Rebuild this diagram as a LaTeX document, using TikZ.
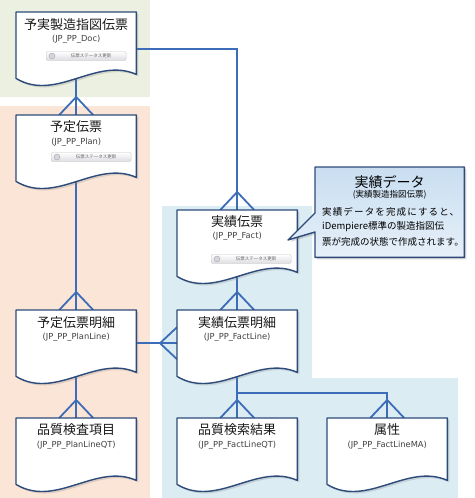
\documentclass[tikz,border=0pt]{standalone}
\usepackage{fontspec}
\setmainfont{Noto Sans CJK JP}
\newfontfamily\latinfont{DejaVu Sans}
\usetikzlibrary{positioning,calc,shadows}

\definecolor{bggreen}{HTML}{EBF0E0}
\definecolor{bgpeach}{HTML}{FBE5D7}
\definecolor{bgblue}{HTML}{DBECF3}
\definecolor{boxline}{HTML}{2C4B7A}
\definecolor{linkline}{HTML}{3D6DB8}
\definecolor{notetop}{HTML}{C9DEF1}
\definecolor{notebot}{HTML}{E6F0F9}

\tikzset{
  docbox/.style={rectangle, draw=none, inner sep=0pt, minimum width=120pt,
    minimum height=66pt, anchor=north west},
  docline/.style={draw=boxline, line width=1.4pt, fill=white, line join=round,
    drop shadow={opacity=0.25, shadow xshift=2pt, shadow yshift=-2pt}},
  link/.style={draw=linkline, line width=1.8pt},
  title/.style={font=\fontsize{13}{15}\selectfont, text=black!90, inner sep=0pt},
  subtitle/.style={font=\latinfont\fontsize{8.3}{9}\selectfont, text=black!75, inner sep=0pt},
  button/.style={rectangle, rounded corners=2pt, draw=gray!45, top color=white,
    bottom color=blue!8!gray!25, minimum width=80pt, minimum height=9pt, inner sep=0pt,
    font=\fontsize{4.5}{5}\selectfont, text=black!60},
  notetext/.style={font=\fontsize{9.5}{11}\selectfont, inner sep=0pt, anchor=west},
}

\begin{document}
\begin{tikzpicture}[x=1pt, y=-1pt]
    \useasboundingbox (0,0) rectangle (474,498);

    % background areas
    \fill[bggreen] (0,0) rectangle (150,97);
    \fill[bgpeach] (0,106) rectangle (150,498);
    \fill[bgblue] (162,206) -- (312,206) -- (312,378) -- (458,378) -- (458,498)
        -- (162,498) -- cycle;

    % tables
    \node[docbox] (doc) at (16,12) {};
    \node[docbox] (plan) at (16,115) {};
    \node[docbox] (fact) at (177,210) {};
    \node[docbox] (planline) at (16,310) {};
    \node[docbox] (factline) at (177,310) {};
    \node[docbox] (planqt) at (16,418) {};
    \node[docbox] (factqt) at (177,418) {};
    \node[docbox] (factma) at (327,418) {};

    % connectors
    \draw[link] ($(doc.east)+(0,4)$) -| (fact.north);
    \draw[link] ($(plan.east)+(0,-6)$) -- ($(plan.east)+(0,-6)$ -| fact.north);
    \draw[link] (doc.south) -- (plan.north);
    \draw[link] (plan.south) -- (planline.north);
    \draw[link] (fact.south) -- (factline.north);
    \draw[link] (planline.east) -- (factline.west);
    \draw[link] (planline.south) -- (planqt.north);
    \draw[link] (factline.south) -- (factqt.north);
    \coordinate (split) at ($(factline.south)+(0,16.5)$);
    \draw[link] (split) -| (factma.north);

    % crow's feet
    \foreach \n in {plan,fact,planline,factline,planqt,factqt,factma}
        \draw[link, line join=round] ($(\n.north)+(-17,0)$) -- ($(\n.north)+(0,-18)$)
            -- ($(\n.north)+(17,0)$);
    \draw[link, line join=round] ($(factline.west)+(0,-16)$) -- ($(factline.west)+(-17,0)$)
        -- ($(factline.west)+(0,16)$);

    % document shapes
    \foreach \n in {doc,plan,fact,planline,factline,planqt,factqt,factma}
        \path[docline] (\n.south west) -- (\n.north west) -- (\n.north east)
            -- ($(\n.south east)+(0,-4)$) .. controls ($(\n.south west)+(80,-22)$)
            and ($(\n.south west)+(40,24)$) .. (\n.south west) -- cycle;

    % titles
    \node[title] at ($(doc.north)+(0,13)$) {予実製造指図伝票};
    \node[subtitle] at ($(doc.north)+(0,27)$) {(JP\_PP\_Doc)};
    \node[title] at ($(plan.north)+(0,12)$) {予定伝票};
    \node[subtitle] at ($(plan.north)+(0,27)$) {(JP\_PP\_Plan)};
    \node[title] at ($(fact.north)+(0,12)$) {実績伝票};
    \node[subtitle] at ($(fact.north)+(0,26)$) {(JP\_PP\_Fact)};
    \node[title] at ($(planline.north)+(0,13)$) {予定伝票明細};
    \node[subtitle] at ($(planline.north)+(0,27)$) {(JP\_PP\_PlanLine)};
    \node[title] at ($(factline.north)+(0,13)$) {実績伝票明細};
    \node[subtitle] at ($(factline.north)+(0,27)$) {(JP\_PP\_FactLine)};
    \node[title] at ($(planqt.north)+(0,12)$) {品質検査項目};
    \node[subtitle] at ($(planqt.north)+(0,27)$) {(JP\_PP\_PlanLineQT)};
    \node[title] at ($(factqt.north)+(0,12)$) {品質検索結果};
    \node[subtitle] at ($(factqt.north)+(0,27)$) {(JP\_PP\_FactLineQT)};
    \node[title] at ($(factma.north)+(0,12)$) {属性};
    \node[subtitle] at ($(factma.north)+(0,27)$) {(JP\_PP\_FactLineMA)};

    % status buttons
    \foreach \n/\dx/\dy in {doc/10/44, plan/15/42, fact/14/49} {
        \node[button] (\n btn) at ($(\n.north)+(\dx,\dy)$) {\hspace{10pt}伝票ステータス更新};
        \draw[gray!70, fill=blue!10!gray!30] ($(\n btn.west)+(6,0)$) circle (3pt);
    }

    % callout
    \node[rectangle, inner sep=0pt, minimum width=149pt, minimum height=90pt,
        anchor=north west] (note) at (315,167) {};
    \coordinate (tip) at (288,240);
    \path[draw=boxline, line width=1.4pt, line join=round, top color=notetop,
        bottom color=notebot,
        drop shadow={opacity=0.3, shadow xshift=2pt, shadow yshift=-2pt}]
        (note.north west) -- (note.north east) -- (note.south east) -- (note.south west)
        -- ($(note.north west)+(0,65)$) -- (tip) -- ($(note.north west)+(0,46)$) -- cycle;
    \node[font=\fontsize{14}{16}\selectfont, inner sep=0pt] at ($(note.north)+(0,15)$) {実績データ};
    \node[font=\fontsize{8.5}{9}\selectfont, inner sep=0pt] at ($(note.north)+(0,28)$) {(実績製造指図伝票)};
    \node[notetext, font=\fontsize{9.5}{11}\selectfont\addfontfeature{LetterSpace=12}]
        at ($(note.north west)+(7,45)$) {実績データを完成にすると、};
    \node[notetext] at ($(note.north west)+(7,60)$) {iDempiere標準の製造指図伝};
    \node[notetext] at ($(note.north west)+(7,75)$) {票が完成の状態で作成されます。};
\end{tikzpicture}
\end{document}
